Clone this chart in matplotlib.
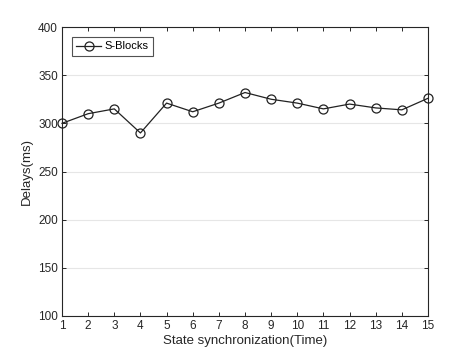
import numpy as np
import matplotlib.pyplot as plt

# data
x = np.arange(1, 16)
delays = [300, 310, 315, 290, 321, 312, 321, 332, 325, 321, 315, 320, 316, 314, 326]
xticks = list(range(1, 16))
yticks = [100, 150, 200, 250, 300, 350, 400]

plt.rcParams['font.family'] = ['Liberation Sans', 'DejaVu Sans']

fig = plt.figure(figsize=(4.74, 3.55), dpi=100)
ax = fig.add_axes([62 / 474, 1 - 316 / 355, 366 / 474, 289 / 355])

ax.plot(x, delays, color='#222222', lw=0.9, marker='o', ms=6.5,
        mfc='none', mec='#222222', mew=0.9, label='S-Blocks', clip_on=False, zorder=3)

ax.set_xlim(1, 15)
ax.set_ylim(100, 400)
ax.set_xticks(xticks)
ax.set_yticks(yticks)
ax.grid(axis='y', color='#e6e6e6', lw=0.8)
ax.set_axisbelow(True)
ax.tick_params(direction='in', top=True, right=True, labelsize=8.5,
               length=3, width=0.7, colors='#262626', pad=3)
for s in ax.spines.values():
    s.set_linewidth(0.8)
    s.set_color('#262626')

ax.set_xlabel('State synchronization(Time)', fontsize=9.5, color='#262626', labelpad=2)
ax.set_ylabel('Delays(ms)', fontsize=9.5, color='#262626', labelpad=4)

leg = ax.legend(loc='upper left', fontsize=8, frameon=True, fancybox=False,
                edgecolor='#262626', borderpad=0.4, handlelength=2.2,
                handletextpad=0.3, borderaxespad=0.9)
leg.get_frame().set_linewidth(0.8)

fig.savefig('out.png', dpi=100)
